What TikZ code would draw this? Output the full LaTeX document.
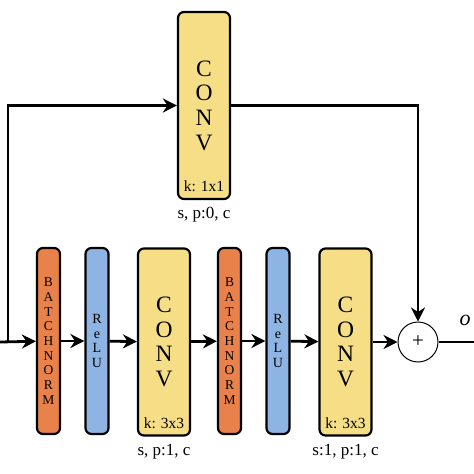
\documentclass[tikz,border=0pt]{standalone}
\usepackage{fontspec}
\setmainfont{Liberation Serif}
\usetikzlibrary{arrows.meta}

\tikzstyle{block}=[draw, line width=2.2pt, rounded corners=6pt, align=center, inner sep=0pt]
\tikzstyle{bn-block}=[block, fill={bncolor}, minimum width=23pt, minimum height=186pt, font=\fontsize{13.5}{14.7}\selectfont]
\tikzstyle{relu-block}=[block, fill={relucolor}, minimum width=23pt, minimum height=186pt, font=\fontsize{14}{14.7}\selectfont]
\tikzstyle{conv-block}=[block, fill={convcolor}, minimum width=52pt, minimum height=187pt, font=\fontsize{23.5}{24.7}\selectfont]
\tikzstyle{flow}=[line width=2.8pt, -{Stealth[length=14pt, width=14pt]}]
\tikzstyle{klabel}=[anchor=south, font=\fontsize{15.5}{17}\selectfont, inner sep=0pt, yshift=8pt]
\tikzstyle{plabel}=[anchor=north, font=\fontsize{17}{19}\selectfont, inner sep=0pt, yshift=-7pt]
\definecolor{bncolor}{HTML}{E9824A}
\definecolor{relucolor}{HTML}{8EB4E3}
\definecolor{convcolor}{HTML}{F6DE87}

\begin{document}
\begin{tikzpicture}[x=1pt, y=-1pt]
      \useasboundingbox (0,0) rectangle (474,474);
      % skip branch
      \node (convskip) at (204,105.5)
            [conv-block, label={[klabel]south:{k: 1x1}}, label={[plabel]south:{s, p:0, c}}] {C\\O\\N\\V};
      % main branch
      \node (bn1) at (48.5,341) [bn-block] {B\\A\\T\\C\\H\\N\\O\\R\\M};
      \node (relu1) at (97,341) [relu-block] {R\\e\\L\\U};
      \node (conv1) at (164,342)
            [conv-block, label={[klabel]south:{k: 3x3}}, label={[plabel]south:{s, p:1, c}}] {C\\O\\N\\V};
      \node (bn2) at (229.5,341) [bn-block] {B\\A\\T\\C\\H\\N\\O\\R\\M};
      \node (relu2) at (278,341) [relu-block] {R\\e\\L\\U};
      \node (conv2) at (345.5,342)
            [conv-block, label={[klabel]south:{k: 3x3}}, label={[plabel]south:{s:1, p:1, c}}] {C\\O\\N\\V};
      \node (plus) at (418,342) [draw, circle, line width=1pt, minimum size=40pt, inner sep=0pt,
            font=\fontsize{21}{23}\selectfont] {+};
      \node (outlabel) at (465,320) [font=\fontsize{22}{24}\selectfont\itshape] {o};

      \coordinate (input) at (0,342);
      \coordinate (split) at (8,342);
      \coordinate (output) at (474,342);

      \draw[flow] (input) -- (bn1);
      \draw[flow] (bn1) -- (relu1);
      \draw[flow] (relu1) -- (conv1);
      \draw[flow] (conv1) -- (bn2);
      \draw[flow] (bn2) -- (relu2);
      \draw[flow] (relu2) -- (conv2);
      \draw[flow] (conv2) -- (plus);
      \draw[line width=2.8pt] (plus) -- (output);
      \draw[flow] (split) |- (convskip.west);
      \draw[flow] (convskip.east) -| (plus.north);
\end{tikzpicture}
\end{document}
